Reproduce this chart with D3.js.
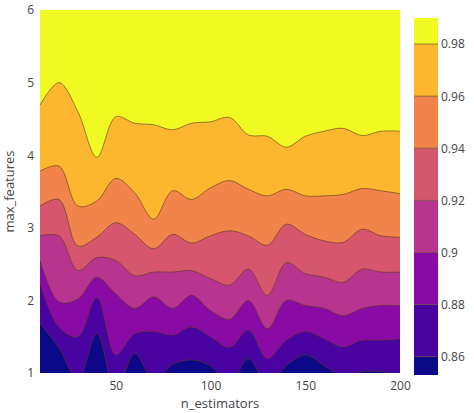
<!DOCTYPE html>
<html><head><meta charset="utf-8">
<script src="https://cdn.jsdelivr.net/npm/d3@7"></script>
<style>body{margin:0;background:#fff}text{font-family:"Open Sans",sans-serif;fill:#444}</style>
</head><body><svg id="chart" width="474" height="413"></svg>
<script>
// n_estimators positions
const nEstimators = [10,20,30,40,50,60,70,80,90,100,110,120,130,140,150,160,170,180,190,200]
// contour levels and the max_features height of each level line
const levels = [0.86, 0.88, 0.9, 0.92, 0.94, 0.96, 0.98]
const line086 = [1.68,1.35,0.9,1.54,0.75,1.27,0.9,1.12,1.18,1.1,0.85,1.2,0.85,1.1,1.25,1.1,0.95,1.02,1.02,0.95]
const line088 = [2.23,1.63,1.5,2.04,1.25,1.54,1.57,1.52,1.63,1.5,1.35,1.59,1.2,1.45,1.57,1.47,1.36,1.45,1.45,1.47]
const line090 = [2.55,1.98,2.02,2.32,2.09,1.89,2.05,1.89,2.07,1.86,1.74,2.0,1.61,2.0,1.93,1.89,1.79,1.89,1.93,1.93]
const line092 = [2.89,2.89,2.41,2.59,2.55,2.34,2.39,2.39,2.41,2.3,2.21,2.43,2.07,2.52,2.37,2.32,2.25,2.43,2.39,2.39]
const line094 = [3.3,3.39,2.75,2.87,3.07,2.91,2.71,2.91,2.79,2.89,2.96,2.89,2.76,3.05,2.91,2.82,2.8,2.98,2.89,2.87]
const line096 = [3.78,3.85,3.3,3.37,3.68,3.48,3.12,3.51,3.39,3.55,3.65,3.53,3.44,3.53,3.44,3.44,3.46,3.54,3.51,3.47]
const line098 = [4.69,5.0,4.6,3.97,4.53,4.44,4.42,4.35,4.44,4.46,4.52,4.28,4.26,4.11,4.26,4.33,4.37,4.27,4.33,4.33]
const levelLines = [line086, line088, line090, line092, line094, line096, line098]
const bandColors = ['#0d0887','#4903a0','#8a0aa5','#b7358e','#d6566d','#f1844b','#fdb72f','#f0f921']
const xTicks = [50, 100, 150, 200]
const yTicks = [1, 2, 3, 4, 5, 6]

const svg = d3.select('#chart')
const plot = { left: 40, right: 400, top: 10, bottom: 373 }

const x = d3.scaleLinear().domain([10, 200]).range([plot.left, plot.right])
const y = d3.scaleLinear().domain([1, 6]).range([plot.bottom, plot.top])

svg.append('clipPath').attr('id', 'clip')
  .append('rect').attr('x', plot.left).attr('y', plot.top)
  .attr('width', plot.right - plot.left).attr('height', plot.bottom - plot.top)

const g = svg.append('g').attr('clip-path', 'url(#clip)')

// lowest band
g.append('rect').attr('x', plot.left).attr('y', plot.top)
  .attr('width', plot.right - plot.left).attr('height', plot.bottom - plot.top)
  .attr('fill', bandColors[0])

const area = d3.area()
  .curve(d3.curveCatmullRom.alpha(0.5))
  .x((d, i) => x(nEstimators[i]))
  .y0(y(6) - 5)
  .y1((d) => y(d))
const line = d3.line()
  .curve(d3.curveCatmullRom.alpha(0.5))
  .x((d, i) => x(nEstimators[i]))
  .y((d) => y(d))

levelLines.forEach((vals, k) => {
  g.append('path').attr('d', area(vals)).attr('fill', bandColors[k + 1])
})
levelLines.forEach((vals) => {
  g.append('path').attr('d', line(vals)).attr('fill', 'none')
    .attr('stroke', '#5a3a1a').attr('stroke-opacity', 0.6).attr('stroke-width', 1)
})

// axes
const xAxis = svg.append('g').attr('transform', `translate(0,${plot.bottom})`)
  .call(d3.axisBottom(x).tickValues(xTicks).tickSize(0).tickPadding(8))
const yAxis = svg.append('g').attr('transform', `translate(${plot.left},0)`)
  .call(d3.axisLeft(y).tickValues(yTicks).tickFormat(d3.format('d')).tickSize(0).tickPadding(6))
;[xAxis, yAxis].forEach((a) => {
  a.select('.domain').remove()
  a.selectAll('text').attr('font-size', 12).attr('fill', '#444').attr('font-family', '"Open Sans",sans-serif')
})

svg.append('text').attr('x', (plot.left + plot.right) / 2).attr('y', 408)
  .attr('text-anchor', 'middle').attr('font-size', 13).text('n_estimators')
svg.append('text').attr('transform', `translate(14,${(plot.top + plot.bottom) / 2}) rotate(-90)`)
  .attr('text-anchor', 'middle').attr('font-size', 13).text('max_features')

// colorbar
const c = d3.scaleLinear().domain([0.853, 0.99]).range([375, 18])
const cbEdges = [0.853, ...levels, 0.99]
const cb = svg.append('g')
bandColors.forEach((col, i) => {
  cb.append('rect').attr('x', 414).attr('width', 24)
    .attr('y', c(cbEdges[i + 1])).attr('height', c(cbEdges[i]) - c(cbEdges[i + 1]))
    .attr('fill', col)
})
levels.forEach((v) => {
  cb.append('line').attr('x1', 414).attr('x2', 438).attr('y1', c(v)).attr('y2', c(v))
    .attr('stroke', '#5a3a1a').attr('stroke-opacity', 0.6)
})
const cAxis = svg.append('g').attr('transform', 'translate(438,0)')
  .call(d3.axisRight(c).tickValues(levels).tickFormat(d3.format('~g')).tickSize(0).tickPadding(3))
cAxis.select('.domain').remove()
cAxis.selectAll('text').attr('font-size', 12).attr('fill', '#444').attr('font-family', '"Open Sans",sans-serif')
</script></body></html>
